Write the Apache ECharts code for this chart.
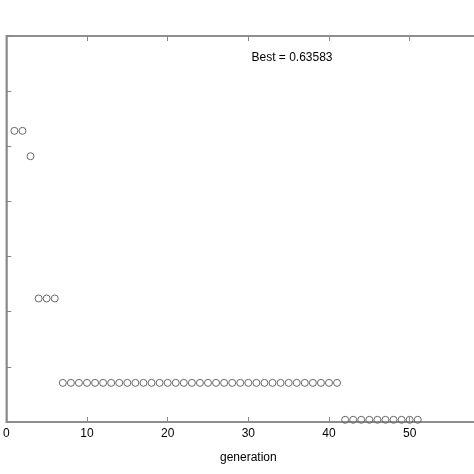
<!DOCTYPE html><html><head><meta charset="utf-8"><script src="https://cdn.jsdelivr.net/npm/echarts@6/dist/echarts.min.js"></script></head><body style="margin:0;background:#fff;overflow:hidden"><div id="c" style="width:500px;height:474px"></div><script>
const generations=[1,2,3,4,5,6,7,8,9,10,11,12,13,14,15,16,17,18,19,20,21,22,23,24,25,26,27,28,29,30,31,32,33,34,35,36,37,38,39,40,41,42,43,44,45,46,47,48,49,50,51];
const fitness=[5.28,5.28,4.82,2.24,2.24,2.24,0.71,0.71,0.71,0.71,0.71,0.71,0.71,0.71,0.71,0.71,0.71,0.71,0.71,0.71,0.71,0.71,0.71,0.71,0.71,0.71,0.71,0.71,0.71,0.71,0.71,0.71,0.71,0.71,0.71,0.71,0.71,0.71,0.71,0.71,0.71,0.04,0.04,0.04,0.04,0.04,0.04,0.04,0.04,0.04,0.04];
const bestText='Best = 0.63583';
const c=echarts.init(document.getElementById('c'));
const ax={lineStyle:{color:'#888',width:1.5}};
c.setOption({animation:false,
grid:{left:3,top:36,right:7,bottom:52,show:true,borderColor:'#888',borderWidth:1.5},
title:{text:bestText,left:287,top:47,textAlign:'center',textStyle:{fontFamily:'Liberation Sans',fontSize:12,fontWeight:'normal',color:'#000'}},
xAxis:[{type:'value',min:0,max:60,interval:10,name:'generation',nameLocation:'middle',nameGap:30,nameTextStyle:{fontFamily:'Liberation Sans',fontSize:12,color:'#000'},axisLine:ax,axisTick:{inside:true,length:5,lineStyle:{color:'#888'}},splitLine:{show:false},axisLabel:{fontFamily:'Liberation Sans',fontSize:12,color:'#000',margin:6}},
{type:'value',position:'top',min:0,max:60,interval:10,axisLine:ax,axisTick:{inside:true,length:5,lineStyle:{color:'#888'}},axisLabel:{show:false},splitLine:{show:false}}],
yAxis:{type:'value',min:0,max:7,interval:1,axisLine:ax,axisTick:{inside:true,length:5,lineStyle:{color:'#888'}},axisLabel:{show:false},splitLine:{show:false}},
series:[{type:'scatter',data:generations.map((g,i)=>[g,fitness[i]]),symbol:'circle',symbolSize:7,itemStyle:{color:'rgba(0,0,0,0)',borderColor:'#666',borderWidth:1,opacity:1}}]});
</script></body></html>
